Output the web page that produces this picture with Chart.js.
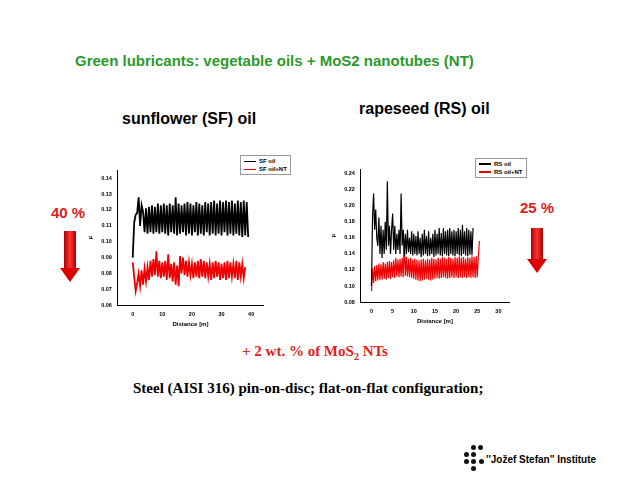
<!DOCTYPE html>
<html><head><meta charset="utf-8">
<script src="https://cdn.jsdelivr.net/npm/chart.js@4"></script>
<style>
body{margin:0;width:638px;height:478px;background:#fff;position:relative;overflow:hidden;font-family:"Liberation Sans",Arial,sans-serif}
.t{position:absolute;white-space:nowrap;font-weight:bold}
canvas{position:absolute}
.lg{position:absolute;font-size:6px;font-weight:bold;line-height:8px;border:1px solid #999;padding:1px 3px;background:#fff}
.lg span{display:inline-block;width:12px;height:1px;vertical-align:middle;margin-right:3px}
.arrow{position:absolute;width:12px;background:linear-gradient(90deg,#a00,#f33,#a00)}
.head{position:absolute;width:0;height:0;border-left:10px solid transparent;border-right:10px solid transparent;border-top:14px solid #d00}
.dot{position:absolute;width:5px;height:5px;border-radius:50%;background:#111}
</style></head><body>
<div class="t" style="left:75px;top:52px;font-size:15px;color:#2a9a2a">Green lubricants: vegetable oils + MoS2 nanotubes (NT)</div>
<div class="t" style="left:122px;top:110px;font-size:16px">sunflower (SF) oil</div>
<div class="t" style="left:359px;top:100px;font-size:16px">rapeseed (RS) oil</div>
<div class="t" style="left:51px;top:204px;font-size:15px;color:#e02020">40 %</div>
<div class="t" style="left:520px;top:199px;font-size:15px;color:#e02020">25 %</div>
<div class="arrow" style="left:64px;top:231px;height:38px"></div><div class="head" style="left:60px;top:268px"></div>
<div class="arrow" style="left:531px;top:228px;height:32px"></div><div class="head" style="left:527px;top:259px"></div>
<div class="t" style="left:242px;top:343px;font-size:15px;color:#e02020;font-family:'Liberation Serif',serif">+ 2 wt. % of MoS<sub style="font-size:10px">2</sub> NTs</div>
<div class="t" style="left:133px;top:380px;font-size:15px;font-family:'Liberation Serif',serif">Steel (AISI 316) pin-on-disc; flat-on-flat configuration;</div>
<div class="dot" style="left:471px;top:445px"></div><div class="dot" style="left:478px;top:445px"></div>
<div class="dot" style="left:464px;top:452px"></div><div class="dot" style="left:471px;top:452px"></div>
<div class="dot" style="left:464px;top:459px"></div><div class="dot" style="left:471px;top:459px"></div><div class="dot" style="left:479px;top:459px"></div>
<div class="dot" style="left:471px;top:466px"></div>
<div class="t" style="left:486px;top:454px;font-size:10px">''Jožef Stefan'' Institute</div>
<canvas id="c1" style="left:83px;top:164px"></canvas>
<canvas id="c2" style="left:326px;top:163px"></canvas>
<div class="lg" style="left:240px;top:155px"><div><span style="background:#000"></span>SF oil</div><div><span style="background:#e00"></span>SF oil+NT</div></div>
<div class="lg" style="left:475px;top:158px"><div><span style="background:#000;height:2px"></span>RS oil</div><div><span style="background:#e00;height:2px"></span>RS oil+NT</div></div>
<script>
const sfStep=0.5;
const sfOil=[0.090,0.112,0.117,0.118,0.128,0.110,0.123,0.119,0.106,0.121,0.105,0.122,0.106,0.123,0.105,0.122,0.106,0.124,0.105,0.123,0.106,0.124,0.105,0.123,0.104,0.124,0.106,0.123,0.105,0.128,0.104,0.124,0.105,0.123,0.106,0.124,0.104,0.125,0.105,0.124,0.104,0.123,0.106,0.125,0.104,0.124,0.105,0.123,0.104,0.125,0.106,0.124,0.104,0.125,0.105,0.126,0.104,0.124,0.105,0.126,0.104,0.125,0.106,0.126,0.104,0.125,0.105,0.126,0.104,0.124,0.105,0.126,0.104,0.125,0.103,0.126,0.104,0.125,0.103];
const sfNT=[0.087,0.078,0.069,0.074,0.080,0.072,0.082,0.073,0.083,0.075,0.084,0.076,0.088,0.078,0.089,0.079,0.094,0.078,0.088,0.077,0.087,0.078,0.088,0.076,0.092,0.077,0.086,0.075,0.087,0.073,0.085,0.072,0.091,0.080,0.090,0.079,0.088,0.078,0.087,0.079,0.086,0.077,0.087,0.078,0.088,0.077,0.089,0.078,0.088,0.077,0.087,0.078,0.086,0.076,0.087,0.077,0.088,0.078,0.087,0.076,0.086,0.077,0.087,0.076,0.088,0.077,0.087,0.078,0.086,0.077,0.088,0.076,0.087,0.078,0.086,0.077,0.084];
const rsStep=0.25;
const rsOil=[0.100,0.185,0.215,0.170,0.195,0.160,0.150,0.185,0.140,0.175,0.135,0.170,0.140,0.180,0.145,0.230,0.150,0.175,0.140,0.170,0.190,0.145,0.175,0.140,0.165,0.145,0.170,0.140,0.215,0.150,0.170,0.138,0.165,0.140,0.170,0.142,0.160,0.140,0.168,0.138,0.165,0.140,0.162,0.138,0.168,0.140,0.160,0.136,0.165,0.138,0.170,0.140,0.162,0.137,0.168,0.138,0.160,0.140,0.165,0.136,0.170,0.138,0.165,0.140,0.172,0.138,0.166,0.137,0.172,0.140,0.168,0.138,0.170,0.137,0.172,0.140,0.168,0.138,0.170,0.137,0.168,0.140,0.172,0.138,0.170,0.137,0.176,0.140,0.168,0.138,0.172,0.137,0.170,0.139,0.168,0.138,0.172];
const rsNT=[0.094,0.122,0.104,0.125,0.106,0.126,0.107,0.128,0.108,0.127,0.108,0.130,0.109,0.128,0.108,0.130,0.110,0.131,0.109,0.130,0.111,0.132,0.110,0.135,0.112,0.133,0.111,0.134,0.112,0.135,0.111,0.155,0.113,0.136,0.112,0.134,0.111,0.135,0.110,0.133,0.109,0.134,0.108,0.133,0.107,0.132,0.106,0.133,0.107,0.134,0.108,0.132,0.109,0.134,0.108,0.133,0.107,0.135,0.108,0.134,0.109,0.133,0.110,0.135,0.109,0.134,0.110,0.136,0.111,0.135,0.110,0.134,0.109,0.136,0.110,0.135,0.111,0.134,0.110,0.136,0.111,0.135,0.110,0.137,0.111,0.135,0.110,0.136,0.111,0.134,0.110,0.136,0.111,0.135,0.110,0.137,0.111,0.136,0.110,0.137,0.111,0.136,0.156];
const sfXTicks=[0,10,20,30,40], rsXTicks=[0,5,10,15,20,25,30];
const sfYTicks=[0.06,0.07,0.08,0.09,0.10,0.11,0.12,0.13,0.14];
const rsYTicks=[0.08,0.10,0.12,0.14,0.16,0.18,0.20,0.22,0.24];
const pts=(a,s)=>a.map((y,i)=>({x:i*s,y}));
const tf={size:5.5,weight:'bold',family:'Liberation Sans'};
function mk(id,w,h,ds,xmin,xmax,ymin,ymax,xt,yt,bw){
  const c=document.getElementById(id);c.width=w;c.height=h;c.style.width=w+'px';c.style.height=h+'px';
  new Chart(c,{type:'line',data:{datasets:ds.map(d=>({data:d[0],borderColor:d[1],borderWidth:bw,pointRadius:0,tension:0}))},
  options:{responsive:false,animation:false,events:[],plugins:{legend:{display:false},tooltip:{enabled:false}},
  layout:{padding:{top:5,right:10}},
  scales:{x:{type:'linear',min:xmin,max:xmax,grid:{display:false,tickLength:3},border:{color:'#000'},
     afterBuildTicks:a=>{a.ticks=xt.map(v=>({value:v}))},
     ticks:{color:'#000',font:tf,callback:v=>v},title:{display:true,text:'Distance [m]',color:'#000',font:{size:6,weight:'bold'},padding:0}},
   y:{min:ymin,max:ymax,grid:{display:false,tickLength:3},border:{color:'#000'},
     afterBuildTicks:a=>{a.ticks=yt.map(v=>({value:v}))},
     ticks:{color:'#000',font:tf,callback:v=>v.toFixed(2)},title:{display:true,text:'µ',color:'#000',font:{size:6,weight:'bold'}}}}}});
}
mk('c1',190,164,[[pts(sfOil,sfStep),'#000'],[pts(sfNT,sfStep),'#e00']],-5,44,0.06,0.145,sfXTicks,sfYTicks,1.8);
mk('c2',193,162,[[pts(rsOil,rsStep),'#000'],[pts(rsNT,rsStep),'#e00']],-2.5,32.5,0.08,0.245,rsXTicks,rsYTicks,1.2);
</script></body></html>
